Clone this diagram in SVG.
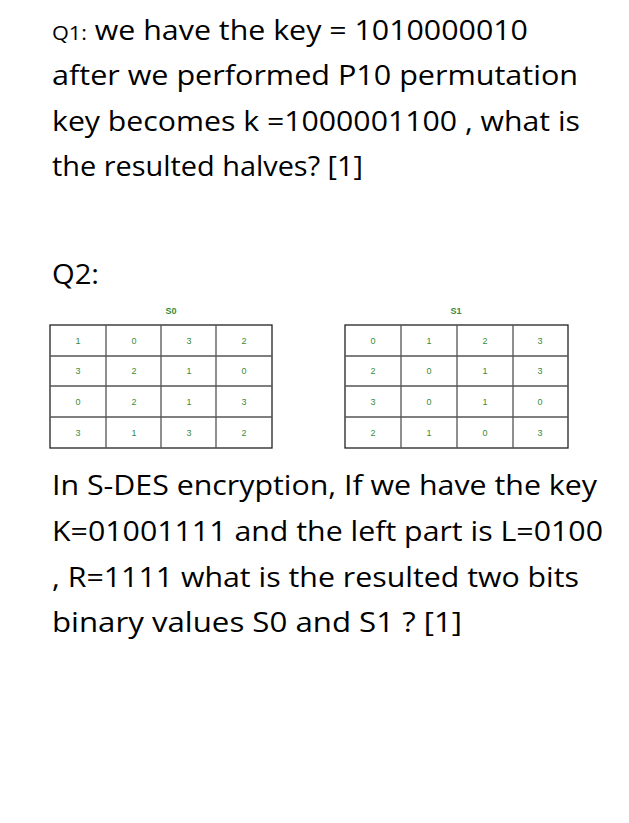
<svg xmlns="http://www.w3.org/2000/svg" width="629" height="823" viewBox="0 0 629 823">
<style>
.t{font-family:"Open Sans","Liberation Sans",sans-serif;font-size:28px;fill:#000}
.c{font-family:"Liberation Sans",Arial,sans-serif;font-size:9px;fill:#3a8a3a;text-anchor:middle}
.h{font-family:"Liberation Sans",Arial,sans-serif;font-size:9px;font-weight:bold;fill:#3a8a3a;text-anchor:middle}
.g{fill:#fff;stroke:#222;stroke-width:1.3}
.l{stroke:#555;stroke-width:1.3}
</style>
<rect width="629" height="823" fill="#fff"/>
<text class="t" x="52" y="40" textLength="476" lengthAdjust="spacingAndGlyphs"><tspan font-size="20">Q1:</tspan> we have the key = 1010000010</text>
<text class="t" x="52" y="85" textLength="526" lengthAdjust="spacingAndGlyphs">after we performed P10  permutation</text>
<text class="t" x="52" y="131" textLength="528" lengthAdjust="spacingAndGlyphs">key becomes k =1000001100 , what is</text>
<text class="t" x="52" y="176" textLength="311" lengthAdjust="spacingAndGlyphs">the  resulted halves? [1]</text>
<text class="t" x="52" y="284" textLength="47" lengthAdjust="spacingAndGlyphs">Q2:</text>
<g id="s0">
<text class="h" x="171" y="314">S0</text>
<rect class="g" x="50" y="325" width="222" height="123"/>
<path class="l" d="M106 325V448M161 325V448M216 325V448M50 356H272M50 386H272M50 417H272"/>
<g class="c">
<text x="78" y="344">1</text><text x="134" y="344">0</text><text x="189" y="344">3</text><text x="244" y="344">2</text>
<text x="78" y="374">3</text><text x="134" y="374">2</text><text x="189" y="374">1</text><text x="244" y="374">0</text>
<text x="78" y="405">0</text><text x="134" y="405">2</text><text x="189" y="405">1</text><text x="244" y="405">3</text>
<text x="78" y="436">3</text><text x="134" y="436">1</text><text x="189" y="436">3</text><text x="244" y="436">2</text>
</g>
</g>
<g id="s1">
<text class="h" x="456" y="314">S1</text>
<rect class="g" x="345" y="325" width="223" height="123"/>
<path class="l" d="M401 325V448M457 325V448M513 325V448M345 356H568M345 386H568M345 417H568"/>
<g class="c">
<text x="373" y="344">0</text><text x="429" y="344">1</text><text x="485" y="344">2</text><text x="540" y="344">3</text>
<text x="373" y="374">2</text><text x="429" y="374">0</text><text x="485" y="374">1</text><text x="540" y="374">3</text>
<text x="373" y="405">3</text><text x="429" y="405">0</text><text x="485" y="405">1</text><text x="540" y="405">0</text>
<text x="373" y="436">2</text><text x="429" y="436">1</text><text x="485" y="436">0</text><text x="540" y="436">3</text>
</g>
</g>
<text class="t" x="52" y="495" textLength="545" lengthAdjust="spacingAndGlyphs">In S-DES encryption, If we have the key</text>
<text class="t" x="52" y="541" textLength="551" lengthAdjust="spacingAndGlyphs">K=01001111 and the left part is L=0100</text>
<text class="t" x="52" y="587" textLength="527" lengthAdjust="spacingAndGlyphs">, R=1111 what is the resulted two bits</text>
<text class="t" x="52" y="632" textLength="410" lengthAdjust="spacingAndGlyphs">binary values S0 and S1 ?  [1]</text>
</svg>
